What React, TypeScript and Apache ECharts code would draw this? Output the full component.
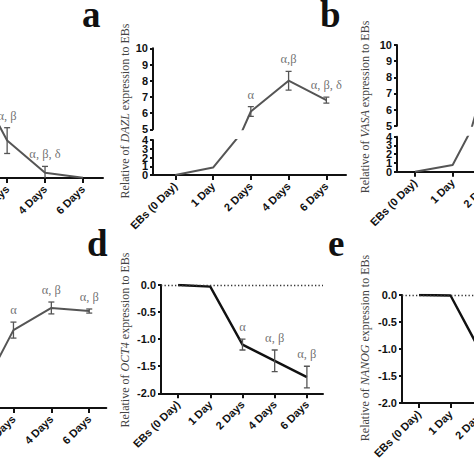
import React, { useEffect, useRef } from "react";
import * as echarts from "echarts";

// ---------- data ----------
const categories = ["EBs (0 Day)", "1 Day", "2 Days", "4 Days", "6 Days"];

const leftTopMean = [0, 8.4, 2.9, 0.4, 0.02];
const leftTopErr = [0, 0, 1.0, 0.5, 0];
const leftTopMarks = ["", "", "α, β", "α, β, δ", ""];

const dazlMean = [0, 0.85, 6.1, 8.0, 6.8];
const dazlErr = [0, 0, 0.3, 0.58, 0.18];
const dazlMarks = ["", "", "α", "α,β", "α, β, δ"];

const vasaMean = [0, 0.77, 8.9, 7.6, 6.9];
const vasaErr = [0, 0, 0.4, 0.5, 0.3];
const vasaMarks = ["", "", "α", "α, β", "α, β, δ"];

const leftBottomMean = [0, 0.25, 3.8, 4.88, 4.73];
const leftBottomErr = [0, 0, 0.39, 0.29, 0.1];
const leftBottomMarks = ["", "", "α", "α, β", "α, β"];

const oct4Mean = [0, -0.03, -1.1, -1.4, -1.7];
const oct4Err = [0, 0, 0.1, 0.2, 0.2];
const oct4Marks = ["", "", "α", "α, β", "α, β"];

const nanogMean = [0, -0.01, -1.1, -1.45, -1.75];
const nanogErr = [0, 0, 0.1, 0.15, 0.2];
const nanogMarks = ["", "", "α", "α, β", "α, β"];

const lowerTicksEven = [0, 2, 4];
const lowerTicksOdd = [1, 3];

const tickIdx = categories.map((_, i) => i);

// ---------- helpers ----------
const AX = "#111";
const SANS = "Liberation Sans";
const SERIF = "Liberation Serif";

type Cfg = {
  left: number; top: number; width: number; height: number;
  xMin: number; xMax: number; yMin: number; yMax: number; yInterval: number;
  showX: boolean; yDecimals: number; splitLabels?: boolean;
  mean: number[]; err: number[]; marks: string[];
  lineColor: string; lineWidth: number; errColor: string; zeroLine?: boolean;
};

function yLabelStyle(c: Cfg, extra: any) {
  return {
    margin: 5, fontSize: 11, fontWeight: "bold", fontFamily: SANS, color: AX,
    formatter: (v: number) => v.toFixed(c.yDecimals),
    showMinLabel: true, showMaxLabel: true, hideOverlap: false,
    ...extra,
  };
}

function addPanel(o: any, c: Cfg) {
  const gi = o.grid.length;
  o.grid.push({
    left: c.left, top: c.top, width: c.width, height: c.height,
    containLabel: false, outerBoundsMode: "none",
  });
  const xi = o.xAxis.length;
  o.xAxis.push({
    gridIndex: gi, type: "value", min: c.xMin, max: c.xMax,
    axisLine: { show: c.showX, onZero: false, lineStyle: { color: AX, width: 2 } },
    axisTick: { show: c.showX, customValues: tickIdx, length: 5, lineStyle: { color: AX, width: 2 } },
    axisLabel: {
      show: c.showX, customValues: tickIdx, rotate: 45, margin: 9,
      formatter: (v: number) => categories[Math.round(v)] ?? "",
      fontSize: 11, fontWeight: "bold", fontFamily: SANS, color: AX,
      hideOverlap: false,
    },
    splitLine: { show: false },
  });
  const yi = o.yAxis.length;
  o.yAxis.push({
    gridIndex: gi, type: "value", min: c.yMin, max: c.yMax, interval: c.yInterval,
    axisLine: { show: true, onZero: false, lineStyle: { color: AX, width: 2 } },
    axisTick: { show: true, length: 3, lineStyle: { color: AX, width: 2 } },
    axisLabel: yLabelStyle(c, c.splitLabels ? { customValues: lowerTicksEven } : {}),
    splitLine: { show: false },
  });
  if (c.splitLabels) {
    o.yAxis.push({
      gridIndex: gi, type: "value", position: "left", offset: 0,
      min: c.yMin, max: c.yMax, interval: c.yInterval,
      axisLine: { show: false, onZero: false },
      axisTick: { show: false },
      axisLabel: yLabelStyle(c, { customValues: lowerTicksOdd }),
      splitLine: { show: false },
    });
  }
  const inRange = (v: number) => v >= c.yMin - 1e-9 && v <= c.yMax + 1e-9;
  const line: any = {
    type: "line", xAxisIndex: xi, yAxisIndex: yi,
    data: c.mean.map((m, i) => [i, m]),
    symbol: "none", clip: true, z: 3,
    lineStyle: { color: c.lineColor, width: c.lineWidth },
    animation: false,
  };
  if (c.zeroLine) {
    line.markLine = {
      silent: true, symbol: ["none", "none"], label: { show: false },
      lineStyle: { color: "#333", width: 1.3, type: [1.3, 2.2] },
      data: [{ yAxis: 0 }], animation: false,
    };
  }
  o.series.push(line);
  o.series.push({
    type: "custom", xAxisIndex: xi, yAxisIndex: yi, clip: true, z: 4,
    encode: { x: 0, y: 1 },
    data: c.mean.map((m, i) => [i, m, c.err[i]]).filter((d) => d[2] > 0 && inRange(d[1])),
    renderItem: (_p: any, api: any) => {
      const x = api.value(0), m = api.value(1), e = api.value(2);
      const a = api.coord([x, m + e]);
      const b = api.coord([x, m - e]);
      const hw = 3;
      const st = { stroke: c.errColor, lineWidth: 1.3 };
      return {
        type: "group",
        children: [
          { type: "line", shape: { x1: a[0], y1: a[1], x2: b[0], y2: b[1] }, style: st },
          { type: "line", shape: { x1: a[0] - hw, y1: a[1], x2: a[0] + hw, y2: a[1] }, style: st },
          { type: "line", shape: { x1: b[0] - hw, y1: b[1], x2: b[0] + hw, y2: b[1] }, style: st },
        ],
      };
    },
    animation: false,
  });
  const ann = c.marks
    .map((t, i) => ({ name: t, value: [i, c.mean[i] + c.err[i]] }))
    .filter((d) => d.name && inRange(d.value[1]));
  if (ann.length) {
    o.series.push({
      type: "scatter", xAxisIndex: xi, yAxisIndex: yi, silent: true, z: 5,
      symbolSize: 1, itemStyle: { color: "rgba(0,0,0,0)" },
      data: ann,
      label: {
        show: true, position: "top", distance: 5, formatter: "{b}",
        fontFamily: SERIF, fontSize: 12.5, color: "#4d4d4d",
      },
      animation: false,
    });
  }
}

function yTitle(x: number, y: number, gene: string) {
  return {
    type: "text", x, y, rotation: Math.PI / 2, silent: true,
    style: {
      text: `{n|Relative of }{i|${gene}}{n| expression to EBs}`,
      rich: {
        n: { fontFamily: SERIF, fontSize: 12, fill: "#444", color: "#444" },
        i: { fontFamily: SERIF, fontSize: 12, fontStyle: "italic", fill: "#444", color: "#444" },
      },
      fontFamily: SERIF, fontSize: 12, fill: "#444",
      align: "center", verticalAlign: "middle",
      textAlign: "center", textVerticalAlign: "middle",
    },
  };
}

function letter(x: number, y: number, t: string) {
  return {
    type: "text", x, y, silent: true,
    style: {
      text: t, fontFamily: SERIF, fontSize: 37, fontWeight: "bold", fill: "#111",
      align: "left", verticalAlign: "middle", textAlign: "left", textVerticalAlign: "middle",
    },
  };
}

function buildOption() {
  const o: any = { animation: false, backgroundColor: "#fff", grid: [], xAxis: [], yAxis: [], series: [] };
  const GRAY = "#555";
  const BLACK = "#111";

  // top-left partial panel
  addPanel(o, {
    left: -91, top: 49, width: 194, height: 129,
    xMin: -0.59, xMax: 4.53, yMin: 0, yMax: 10, yInterval: 2, showX: true, yDecimals: 0,
    mean: leftTopMean, err: leftTopErr, marks: leftTopMarks,
    lineColor: GRAY, lineWidth: 2, errColor: GRAY,
  });
  // DAZL upper / lower
  addPanel(o, {
    left: 153, top: 48.3, width: 193, height: 81,
    xMin: -0.59, xMax: 4.52, yMin: 5, yMax: 10, yInterval: 1, showX: false, yDecimals: 0,
    mean: dazlMean, err: dazlErr, marks: dazlMarks,
    lineColor: GRAY, lineWidth: 2, errColor: GRAY,
  });
  addPanel(o, {
    left: 153, top: 140, width: 193, height: 35,
    xMin: -0.59, xMax: 4.52, yMin: 0, yMax: 4, yInterval: 1, showX: true, yDecimals: 0,
    splitLabels: true,
    mean: dazlMean, err: dazlErr, marks: dazlMarks,
    lineColor: GRAY, lineWidth: 2, errColor: GRAY,
  });
  // VASA upper / lower
  addPanel(o, {
    left: 397, top: 45, width: 188, height: 80.7,
    xMin: -0.48, xMax: 4.52, yMin: 5, yMax: 10, yInterval: 1, showX: false, yDecimals: 0,
    mean: vasaMean, err: vasaErr, marks: vasaMarks,
    lineColor: GRAY, lineWidth: 2, errColor: GRAY,
  });
  addPanel(o, {
    left: 397, top: 136.7, width: 188, height: 35,
    xMin: -0.48, xMax: 4.52, yMin: 0, yMax: 4, yInterval: 1, showX: true, yDecimals: 0,
    splitLabels: true,
    mean: vasaMean, err: vasaErr, marks: vasaMarks,
    lineColor: GRAY, lineWidth: 2, errColor: GRAY,
  });
  // bottom-left partial panel
  addPanel(o, {
    left: -84.7, top: 285, width: 191, height: 123,
    xMin: -0.59, xMax: 4.45, yMin: 0, yMax: 6, yInterval: 1, showX: true, yDecimals: 0,
    mean: leftBottomMean, err: leftBottomErr, marks: leftBottomMarks,
    lineColor: GRAY, lineWidth: 2, errColor: GRAY,
  });
  // OCT4
  addPanel(o, {
    left: 161, top: 285, width: 162, height: 108.3,
    xMin: -0.53, xMax: 4.5, yMin: -2, yMax: 0, yInterval: 0.5, showX: true, yDecimals: 1,
    mean: oct4Mean, err: oct4Err, marks: oct4Marks,
    lineColor: BLACK, lineWidth: 2.4, errColor: "#555", zeroLine: true,
  });
  // NANOG
  addPanel(o, {
    left: 402, top: 295, width: 162, height: 108,
    xMin: -0.54, xMax: 4.6, yMin: -2, yMax: 0, yInterval: 0.5, showX: true, yDecimals: 1,
    mean: nanogMean, err: nanogErr, marks: nanogMarks,
    lineColor: BLACK, lineWidth: 2.4, errColor: "#555", zeroLine: true,
  });

  o.graphic = [
    yTitle(125, 111, "DAZL"),
    yTitle(365, 107, "VASA"),
    yTitle(125, 340, "OCT4"),
    yTitle(365, 348, "NANOG"),
    letter(82, 14.5, "a"),
    letter(320, 14.5, "b"),
    letter(87, 243.5, "d"),
    letter(328, 243.5, "e"),
  ];
  return o;
}

export default function App() {
  const ref = useRef<HTMLDivElement>(null);
  useEffect(() => {
    if (!ref.current) return;
    const chart = echarts.init(ref.current, undefined, { renderer: "svg" });
    chart.setOption(buildOption());
    return () => chart.dispose();
  }, []);
  return (
    <div
      ref={ref}
      style={{ position: "fixed", left: 0, top: 0, width: 474, height: 474, background: "#fff" }}
    />
  );
}
